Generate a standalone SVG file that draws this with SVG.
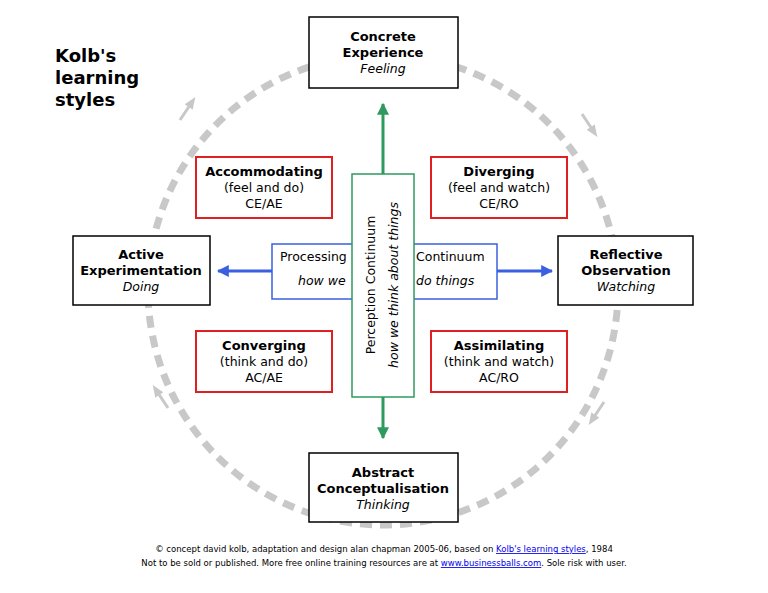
<svg xmlns="http://www.w3.org/2000/svg" width="768" height="593" viewBox="0 0 768 593">
<style>
text{font-family:"DejaVu Sans",Verdana,sans-serif;fill:#000}
.b{font-weight:bold;font-size:13px}
.n{font-size:12.5px}
.i{font-style:italic;font-size:12.5px}
.box{fill:#fff;stroke:#000;stroke-width:1.5}
.red{fill:#fff;stroke:#e02020;stroke-width:2}
</style>
<defs>
<marker id="ga" viewBox="0 0 10 10" refX="9" refY="5" markerWidth="4" markerHeight="4" orient="auto"><path d="M0,0L10,5L0,10z" fill="#2e9a5e"/></marker>
<marker id="ba" viewBox="0 0 10 10" refX="9" refY="5" markerWidth="4" markerHeight="4" orient="auto"><path d="M0,0L10,5L0,10z" fill="#3a5fe0"/></marker>
<marker id="sa" viewBox="0 0 10 10" refX="5" refY="5" markerWidth="4" markerHeight="4" orient="auto"><path d="M0,1L10,5L0,9z" fill="#c8c8c8"/></marker>
</defs>
<rect width="768" height="593" fill="#fff"/>
<text x="55" y="62" style="font-weight:bold;font-size:18px">Kolb's</text>
<text x="55" y="84" style="font-weight:bold;font-size:18px">learning</text>
<text x="55" y="106" style="font-weight:bold;font-size:18px">styles</text>
<g id="connectors">
<circle cx="383" cy="290" r="235" fill="none" stroke="#c8c8c8" stroke-width="7" stroke-dasharray="12 8"/>
<line x1="180" y1="120" x2="192" y2="102" stroke="#c8c8c8" stroke-width="3" marker-end="url(#sa)"/>
<line x1="582" y1="114" x2="594" y2="132" stroke="#c8c8c8" stroke-width="3" marker-end="url(#sa)"/>
<line x1="604" y1="402" x2="592" y2="420" stroke="#c8c8c8" stroke-width="3" marker-end="url(#sa)"/>
<line x1="168" y1="408" x2="156" y2="390" stroke="#c8c8c8" stroke-width="3" marker-end="url(#sa)"/>
<line x1="383" y1="175" x2="383" y2="104" stroke="#2e9a5e" stroke-width="3" marker-end="url(#ga)"/>
<line x1="383" y1="396" x2="383" y2="438" stroke="#2e9a5e" stroke-width="3" marker-end="url(#ga)"/>
<line x1="272" y1="271" x2="218" y2="271" stroke="#3a5fe0" stroke-width="3" marker-end="url(#ba)"/>
<line x1="497" y1="271" x2="552" y2="271" stroke="#3a5fe0" stroke-width="3" marker-end="url(#ba)"/>
</g>
<g id="processing">
<rect x="272" y="244" width="225" height="55" fill="#fff" stroke="#3a5fe0" stroke-width="1.5"/>
<text x="280" y="261" class="n">Processing</text>
<text x="298" y="285" class="i">how we</text>
<text x="416" y="261" class="n">Continuum</text>
<text x="416" y="285" class="i">do things</text>
</g>
<g id="perception">
<rect x="352" y="174" width="62" height="223" fill="#fff" stroke="#2e9a5e" stroke-width="1.5"/>
<text transform="translate(375,285) rotate(-90)" text-anchor="middle" class="n">Perception Continuum</text>
<text transform="translate(398,285) rotate(-90)" text-anchor="middle" class="i">how we think about things</text>
</g>
<g id="ce"><rect x="309" y="17" width="149" height="71" class="box"/>
<text x="383" y="41" text-anchor="middle" class="b">Concrete</text><text x="383" y="57" text-anchor="middle" class="b">Experience</text><text x="383" y="73" text-anchor="middle" class="i">Feeling</text></g>
<g id="ae"><rect x="73" y="236" width="137" height="69" class="box"/>
<text x="141" y="259" text-anchor="middle" class="b">Active</text><text x="141" y="275" text-anchor="middle" class="b">Experimentation</text><text x="141" y="291" text-anchor="middle" class="i">Doing</text></g>
<g id="ro"><rect x="558" y="236" width="135" height="69" class="box"/>
<text x="626" y="259" text-anchor="middle" class="b">Reflective</text><text x="626" y="275" text-anchor="middle" class="b">Observation</text><text x="626" y="291" text-anchor="middle" class="i">Watching</text></g>
<g id="ac"><rect x="309" y="453" width="149" height="69" class="box"/>
<text x="383" y="477" text-anchor="middle" class="b">Abstract</text><text x="383" y="493" text-anchor="middle" class="b">Conceptualisation</text><text x="383" y="509" text-anchor="middle" class="i">Thinking</text></g>
<g id="accommodating"><rect x="196" y="157" width="136" height="61" class="red"/>
<text x="264" y="176" text-anchor="middle" class="b">Accommodating</text><text x="264" y="192" text-anchor="middle" class="n">(feel and do)</text><text x="264" y="208" text-anchor="middle" class="n">CE/AE</text></g>
<g id="diverging"><rect x="431" y="157" width="136" height="61" class="red"/>
<text x="499" y="176" text-anchor="middle" class="b">Diverging</text><text x="499" y="192" text-anchor="middle" class="n">(feel and watch)</text><text x="499" y="208" text-anchor="middle" class="n">CE/RO</text></g>
<g id="converging"><rect x="196" y="331" width="136" height="61" class="red"/>
<text x="264" y="350" text-anchor="middle" class="b">Converging</text><text x="264" y="366" text-anchor="middle" class="n">(think and do)</text><text x="264" y="382" text-anchor="middle" class="n">AC/AE</text></g>
<g id="assimilating"><rect x="431" y="331" width="136" height="61" class="red"/>
<text x="499" y="350" text-anchor="middle" class="b">Assimilating</text><text x="499" y="366" text-anchor="middle" class="n">(think and watch)</text><text x="499" y="382" text-anchor="middle" class="n">AC/RO</text></g>
<g id="footer" style="font-size:8.5px">
<text x="384" y="552" text-anchor="middle" style="font-size:8.5px">© concept david kolb, adaptation and design alan chapman 2005-06, based on <tspan fill="#0000ee" text-decoration="underline">Kolb's learning styles</tspan>, 1984</text>
<text x="384" y="566" text-anchor="middle" style="font-size:8.5px">Not to be sold or published. More free online training resources are at <tspan fill="#0000ee" text-decoration="underline">www.businessballs.com</tspan>. Sole risk with user.</text>
</g>
</svg>
